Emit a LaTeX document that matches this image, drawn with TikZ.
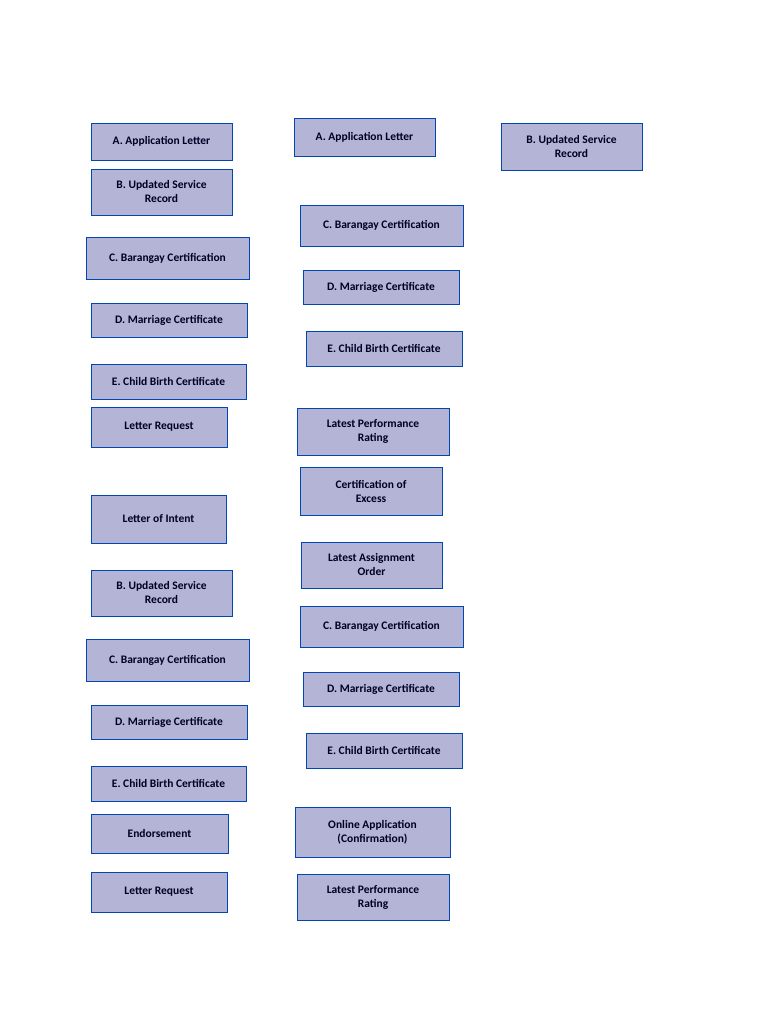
\documentclass[tikz,border=0pt]{standalone}
\usepackage{fontspec}
\setmainfont{Carlito}
\usetikzlibrary{calc}
\tikzset{
  docbox/.style={draw=blue!60!cyan!70!black, fill=blue!30!gray!45!white, line width=0.8pt,
    inner sep=0pt, align=center, text=black!85!blue,
    font=\fontsize{11.5}{14}\selectfont\bfseries}
}
% \doc{name}{x1}{y1}{x2}{y2}{text}
\newcommand{\doc}[6]{%
  \node[docbox, minimum width={#4-#2}, minimum height={#5-#3}] (#1) at ({(#2+#4)/2},{(#3+#5)/2}) {#6};}
\begin{document}
\begin{tikzpicture}[x=1pt,y=-1pt]
	\useasboundingbox (0,0) rectangle (768,1024);
	% left column
	\doc{appL}{91}{123}{232}{160}{A. Application Letter}
	\doc{srvL}{91}{169}{232}{215}{B. Updated Service\\Record}
	\doc{brgL}{86}{237}{249}{279}{C. Barangay Certification}
	\doc{marL}{91}{303}{247}{337}{D. Marriage Certificate}
	\doc{chdL}{91}{364}{246}{399}{E. Child Birth Certificate}
	\doc{reqL}{91}{407}{227}{447}{Letter Request}
	\doc{intL}{91}{495}{226}{543}{Letter of Intent}
	\doc{srvLb}{91}{570}{232}{616}{B. Updated Service\\Record}
	\doc{brgLb}{86}{639}{249}{681}{C. Barangay Certification}
	\doc{marLb}{91}{705}{247}{739}{D. Marriage Certificate}
	\doc{chdLb}{91}{766}{246}{801}{E. Child Birth Certificate}
	\doc{endL}{91}{814}{228}{853}{Endorsement}
	\doc{reqLb}{91}{872}{227}{912}{Letter Request}
	% middle column
	\doc{appM}{294}{118}{435}{156}{A. Application Letter}
	\doc{brgM}{300}{205}{463}{246}{C. Barangay Certification}
	\doc{marM}{303}{270}{459}{304}{D. Marriage Certificate}
	\doc{chdM}{306}{331}{462}{366}{E. Child Birth Certificate}
	\doc{perM}{297}{408}{449}{455}{Latest Performance\\Rating}
	\doc{excM}{300}{467}{442}{515}{Certification of\\Excess}
	\doc{asgM}{301}{542}{442}{588}{Latest Assignment\\Order}
	\doc{brgMb}{300}{606}{463}{647}{C. Barangay Certification}
	\doc{marMb}{303}{672}{459}{706}{D. Marriage Certificate}
	\doc{chdMb}{306}{733}{462}{768}{E. Child Birth Certificate}
	\doc{onlM}{295}{807}{450}{857}{Online Application\\(Confirmation)}
	\doc{perMb}{297}{874}{449}{920}{Latest Performance\\Rating}
	% right column
	\doc{srvR}{501}{123}{642}{170}{B. Updated Service\\Record}
\end{tikzpicture}
\end{document}
